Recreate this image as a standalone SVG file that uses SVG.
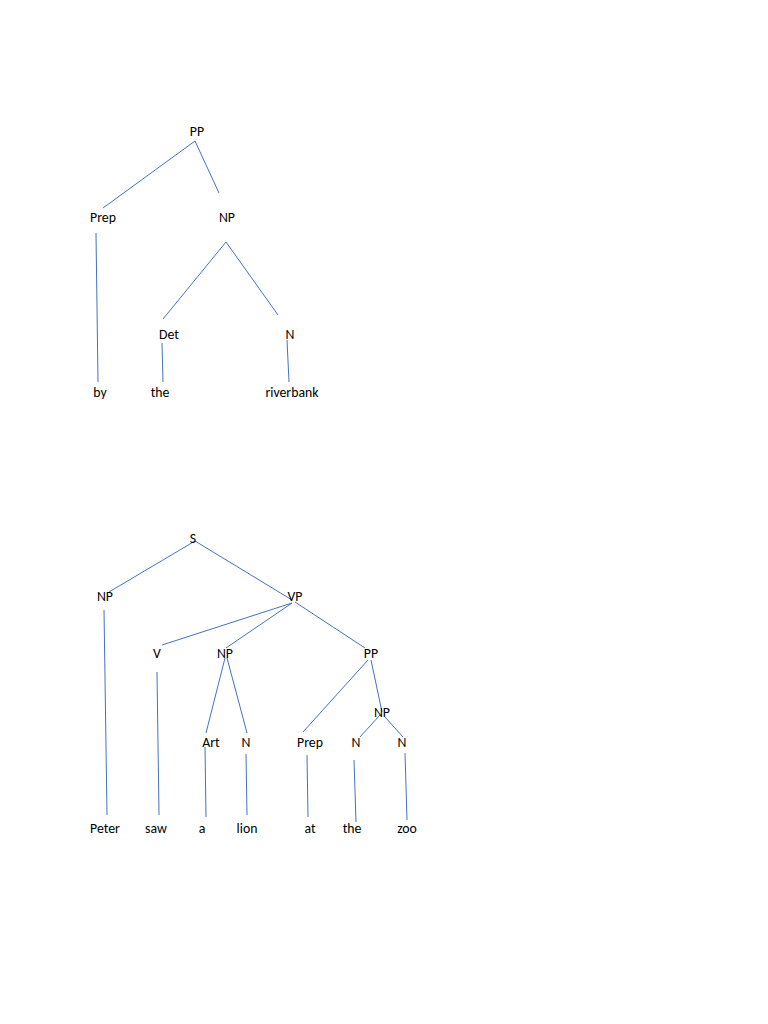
<svg xmlns="http://www.w3.org/2000/svg" width="768" height="1024" viewBox="0 0 768 1024">
<style>
text{font-family:Carlito,Lato,"Liberation Sans",sans-serif;font-size:13.8px;fill:#000;text-anchor:middle}
.e line{stroke:#4472C4;stroke-width:1;fill:none}
</style>
<rect width="768" height="1024" fill="#fff"/>
<g class="e" id="connectors">
<line x1="195" y1="141" x2="103" y2="208"/>
<line x1="195" y1="141" x2="219" y2="193"/>
<line x1="96" y1="233" x2="98" y2="382"/>
<line x1="226" y1="242" x2="163" y2="319"/>
<line x1="226" y1="242" x2="278" y2="315"/>
<line x1="162" y1="343" x2="163" y2="382"/>
<line x1="287" y1="340" x2="289" y2="382"/>
<line x1="195" y1="541" x2="109" y2="592"/>
<line x1="195" y1="541" x2="292" y2="600"/>
<line x1="104" y1="610" x2="107" y2="815"/>
<line x1="292" y1="603" x2="162" y2="645"/>
<line x1="292" y1="603" x2="226" y2="648"/>
<line x1="157" y1="672" x2="159" y2="815"/>
<line x1="225" y1="658" x2="206" y2="733"/>
<line x1="227" y1="658" x2="247" y2="733"/>
<line x1="205" y1="747" x2="206" y2="817"/>
<line x1="246" y1="754" x2="247" y2="815"/>
<line x1="295" y1="602" x2="365" y2="648"/>
<line x1="368" y1="660" x2="303" y2="732"/>
<line x1="371" y1="660" x2="382" y2="712"/>
<line x1="380" y1="715" x2="360" y2="737"/>
<line x1="385" y1="717" x2="403" y2="737"/>
<line x1="307" y1="755" x2="308" y2="817"/>
<line x1="354" y1="760" x2="356" y2="822"/>
<line x1="405" y1="753" x2="407" y2="820"/>
</g>
<g id="n-pp1"><text x="197" y="136">PP</text></g>
<g id="n-prep1"><text x="103" y="222">Prep</text></g>
<g id="n-np1"><text x="227" y="222">NP</text></g>
<g id="n-det"><text x="169" y="339">Det</text></g>
<g id="n-n1"><text x="290" y="339">N</text></g>
<g id="n-by"><text x="100" y="397">by</text></g>
<g id="n-the1"><text x="160" y="397">the</text></g>
<g id="n-riverbank"><text x="292" y="397">riverbank</text></g>
<g id="n-s"><text x="193" y="543">S</text></g>
<g id="n-np2"><text x="105" y="601">NP</text></g>
<g id="n-vp"><text x="295" y="601">VP</text></g>
<g id="n-v"><text x="157" y="658">V</text></g>
<g id="n-np3"><text x="225" y="658">NP</text></g>
<g id="n-pp2"><text x="371" y="658">PP</text></g>
<g id="n-np4"><text x="382" y="717">NP</text></g>
<g id="n-art"><text x="211" y="747">Art</text></g>
<g id="n-n2"><text x="246" y="747">N</text></g>
<g id="n-prep2"><text x="310" y="747">Prep</text></g>
<g id="n-n3"><text x="356" y="747">N</text></g>
<g id="n-n4"><text x="402" y="747">N</text></g>
<g id="n-peter"><text x="105" y="833">Peter</text></g>
<g id="n-saw"><text x="156" y="833">saw</text></g>
<g id="n-a"><text x="202" y="833">a</text></g>
<g id="n-lion"><text x="247" y="833">lion</text></g>
<g id="n-at"><text x="310" y="833">at</text></g>
<g id="n-the2"><text x="352" y="833">the</text></g>
<g id="n-zoo"><text x="407" y="833">zoo</text></g>
</svg>
